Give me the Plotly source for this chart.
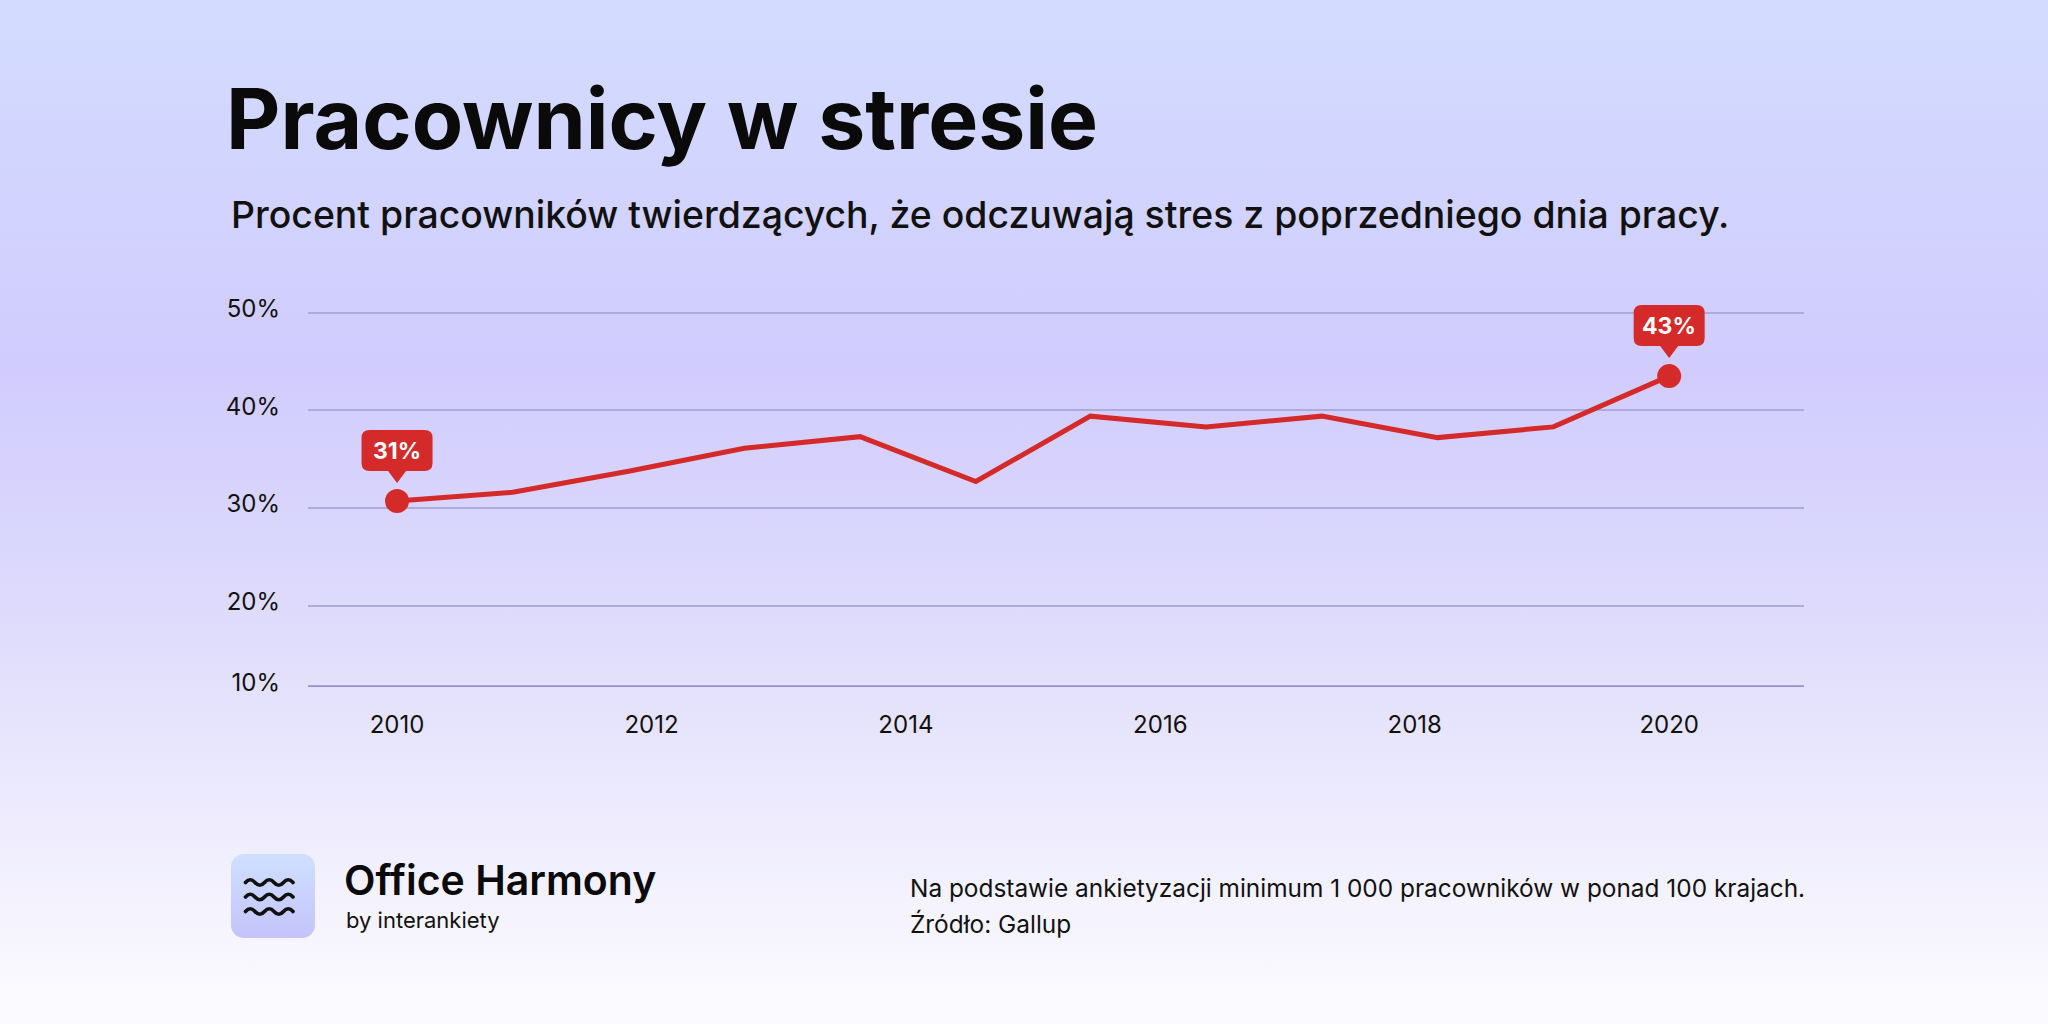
import base64
import plotly.graph_objects as go

# ---------------- data ----------------
years = [2010.0, 2010.91, 2011.82, 2012.73, 2013.64, 2014.55,
         2015.45, 2016.36, 2017.27, 2018.18, 2019.09, 2020.0]
stress_pct = [30.7, 31.6, 33.75, 36.1, 37.3, 32.7, 39.4, 38.3, 39.4, 37.2, 38.3, 43.5]
callout_labels = ["31%", "43%"]          # first and last point
x_tick_vals = [2010, 2012, 2014, 2016, 2018, 2020]
x_tick_text = ["2010", "2012", "2014", "2016", "2018", "2020"]
y_axis_floor = 11.65
y_tick_vals = [y_axis_floor, 20, 30, 40, 50]
y_tick_text = ["10%", "20%", "30%", "40%", "50%"]

title = "Pracownicy w stresie"
subtitle = "Procent pracowników twierdzących, że odczuwają stres z poprzedniego dnia pracy."
brand = "Office Harmony"
brand_sub = "by interankiety"
note1 = "Na podstawie ankietyzacji minimum 1 000 pracowników w ponad 100 krajach."
note2 = "Źródło: Gallup"

# ---------------- layout geometry ----------------
FW, FH = 2048, 1024
ML, MR, MT, MB = 308, 244, 283, 337
PW, PH = FW - ML - MR, FH - MT - MB

def px2x(px):
    return (px - ML) / PW

def py2y(py):
    return (FH - MB - py) / PH

RED = "#d42a2a"
FONT = "Inter"

fig = go.Figure()
fig.add_trace(go.Scatter(x=years, y=stress_pct, mode="lines",
                         line=dict(color=RED, width=5), hoverinfo="skip",
                         showlegend=False))
fig.add_trace(go.Scatter(x=[years[0], years[-1]], y=[stress_pct[0], stress_pct[-1]],
                         mode="markers", marker=dict(color=RED, size=24),
                         hoverinfo="skip", showlegend=False, cliponaxis=False))

# callouts (rounded box with pointer), pixel-sized, anchored on data points
w, top, b, tip, t, r = 71, 71, 30, 18, 9, 8
callout_path = (f"M {-w/2+r},{b} L {-t},{b} L 0,{tip} L {t},{b} L {w/2-r},{b} "
                f"Q {w/2},{b} {w/2},{b+r} L {w/2},{top-r} Q {w/2},{top} {w/2-r},{top} "
                f"L {-w/2+r},{top} Q {-w/2},{top} {-w/2},{top-r} L {-w/2},{b+r} "
                f"Q {-w/2},{b} {-w/2+r},{b} Z")
shapes = []
annotations = []
for xi, yi, lab in [(years[0], stress_pct[0], callout_labels[0]),
                    (years[-1], stress_pct[-1], callout_labels[1])]:
    shapes.append(dict(type="path", xref="x", yref="y", xsizemode="pixel",
                       ysizemode="pixel", xanchor=xi, yanchor=yi, path=callout_path,
                       fillcolor=RED, line=dict(width=0), layer="above"))
    annotations.append(dict(x=xi, y=yi, xref="x", yref="y", text=f"<b>{lab}</b>",
                            showarrow=False, yshift=(top + b) / 2,
                            font=dict(family=FONT, size=23, color="white")))

# background gradient + logo as SVG images
bg_svg = (f"<svg xmlns='http://www.w3.org/2000/svg' width='{FW}' height='{FH}' "
          f"preserveAspectRatio='none'><defs><linearGradient id='g' x1='0' y1='0' x2='0' y2='1'>"
          "<stop offset='0' stop-color='#d3dcff'/><stop offset='0.36' stop-color='#d1ccfd'/>"
          "<stop offset='0.6' stop-color='#dedbfc'/><stop offset='0.8' stop-color='#eeecfd'/>"
          "<stop offset='1' stop-color='#fcfcff'/></linearGradient></defs>"
          f"<rect width='{FW}' height='{FH}' fill='url(#g)'/></svg>")
wave = "q4.75,-5.5 9.5,0 t9.5,0 t9.5,0 t9.5,0 t9.5,0"
logo_svg = ("<svg xmlns='http://www.w3.org/2000/svg' width='84' height='84'>"
            "<defs><linearGradient id='l' x1='0' y1='0' x2='0' y2='1'>"
            "<stop offset='0' stop-color='#cfe0ff'/><stop offset='1' stop-color='#c4c3fb'/>"
            "</linearGradient></defs><rect x='0' y='0' width='84' height='84' rx='13' fill='url(#l)'/>"
            f"<g fill='none' stroke='#111' stroke-width='3.6' stroke-linecap='round'>"
            f"<path d='M14.5,28.5 {wave}'/><path d='M14.5,43 {wave}'/><path d='M14.5,57.5 {wave}'/>"
            "</g></svg>")

def uri(svg):
    return "data:image/svg+xml;base64," + base64.b64encode(svg.encode()).decode()

images = [
    dict(source=uri(bg_svg), xref="paper", yref="paper", x=px2x(0), y=py2y(0),
         sizex=FW / PW, sizey=FH / PH, sizing="stretch", xanchor="left",
         yanchor="top", layer="below"),
    dict(source=uri(logo_svg), xref="paper", yref="paper", x=px2x(231), y=py2y(854),
         sizex=84 / PW, sizey=84 / PH, sizing="stretch", xanchor="left",
         yanchor="top", layer="above"),
]

def txt(text, px, py, size, color="#111111", weight=400, xanchor="left"):
    annotations.append(dict(text=text, x=px2x(px), y=py2y(py), xref="paper", yref="paper",
                            xanchor=xanchor, yanchor="middle", showarrow=False,
                            font=dict(family=FONT, size=size, color=color, weight=weight)))

txt(title, 224, 118, 84, "#0a0a0a", 700)
txt(subtitle, 229, 214, 37.4, "#111111", 500)
txt(brand, 342, 880, 41, "#0a0a0a", 600)
txt(brand_sub, 344, 920, 22, "#111111", 400)
txt(note1, 908, 888, 24.4, "#111111", 400)
txt(note2, 908, 924, 24.4, "#111111", 400)

fig.update_layout(
    width=FW, height=FH,
    margin=dict(l=ML, r=MR, t=MT, b=MB, autoexpand=False),
    paper_bgcolor="#f4f2fe", plot_bgcolor="rgba(0,0,0,0)",
    shapes=shapes, annotations=annotations, images=images,
    xaxis=dict(range=[2009.30, 2021.06], tickvals=x_tick_vals, ticktext=x_tick_text,
               showgrid=False, zeroline=False, showline=False,
               ticks="", ticklabelstandoff=21,
               tickfont=dict(family=FONT, size=24, color="#111111")),
    yaxis=dict(range=[y_axis_floor, 53.04], tickvals=y_tick_vals, ticktext=y_tick_text,
               showgrid=True, gridcolor="#adaadc", gridwidth=1.5, zeroline=False,
               showline=False, ticks="", ticklabelstandoff=27, ticklabelshift=-4,
               tickfont=dict(family=FONT, size=24, color="#111111")),
    showlegend=False,
)
# baseline (x-axis line) drawn at the axis floor
fig.add_shape(type="line", xref="paper", yref="y", x0=0, x1=1, y0=y_axis_floor,
              y1=y_axis_floor, line=dict(color="#8f93c9", width=3.5), layer="below")

fig.write_html("out.html")
